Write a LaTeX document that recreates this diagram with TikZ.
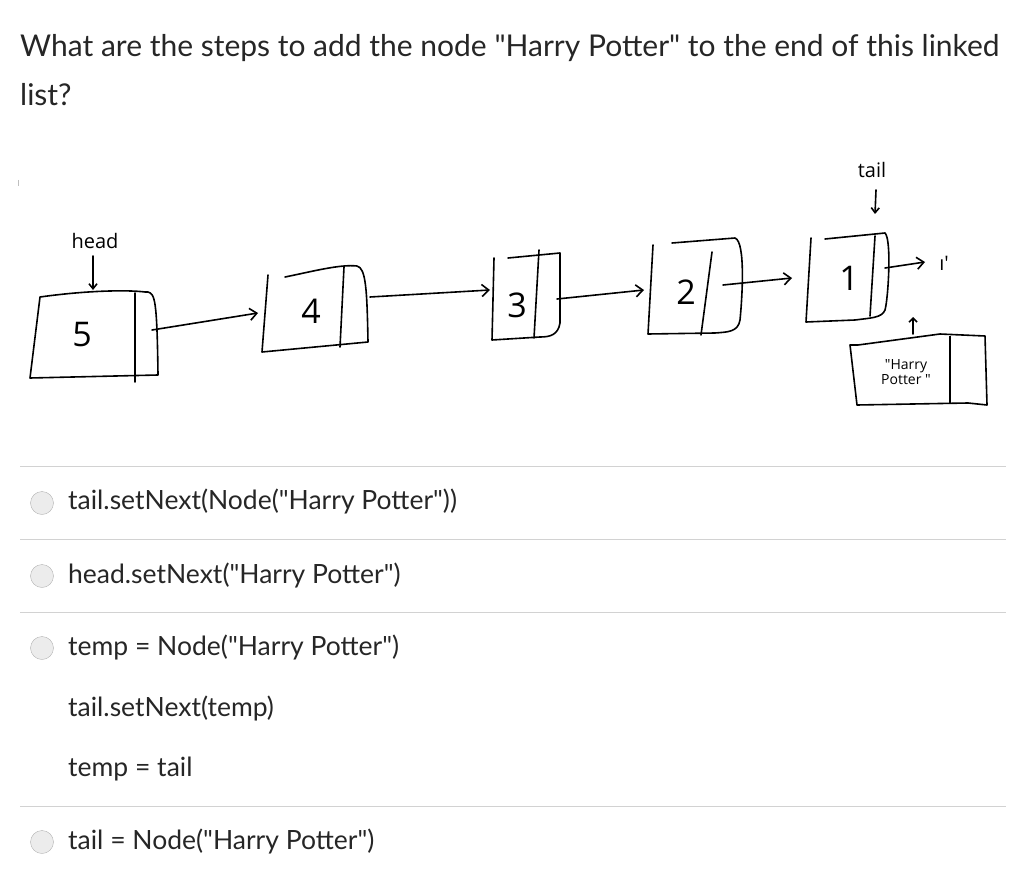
\documentclass[tikz,border=0pt]{standalone}
\usepackage{fontspec}
\setmainfont{Lato}
\newfontfamily\hand{Open Sans}
\usetikzlibrary{arrows.meta}
\newcommand{\dq}{\textquotedbl}
\begin{document}
\begin{tikzpicture}[x=1pt,y=-1pt,
  pen/.style={line width=1.6pt,line join=round,line cap=round},
  ptr/.style={pen,-{Straight Barb[length=7pt,width=12pt]}},
  hw/.style={font=\hand\fontsize{34}{34}\selectfont,inner sep=0pt},
  hws/.style={font=\hand\fontsize{14}{14}\selectfont,inner sep=0pt,align=center},
  sep/.style={draw=gray!35,line width=1pt},
  radio/.style={circle,draw=gray!60,fill=gray!15,minimum size=23pt,inner sep=0pt},
  opt/.style={anchor=west,font=\fontsize{26.5}{26.5}\selectfont,inner sep=0pt,text=black!85},
  lbl/.style={font=\hand\fontsize{20}{20}\selectfont,inner sep=0pt}]
\useasboundingbox (0,0) rectangle (1024,885);
\node[anchor=west,font=\fontsize{30}{30}\selectfont,text=black!85,inner sep=0pt] (t1) at (20,48) {What are the steps to add the node \dq Harry Potter\dq{} to the end of this linked};
\node[anchor=west,font=\fontsize{30}{30}\selectfont,text=black!85,inner sep=0pt] (t2) at (20,95) {list?};
\draw[gray!50] (18,180) -- (18,186);
% boxes
\draw[pen] (40,297) .. controls (90,290) and (130,290) .. (145,292) -- (148,292) .. controls (155,294) and (157,300) .. (158,375) -- (30,378) -- (40,297);
\draw[pen] (135,293) -- (135,382);
\node[hw] (n5) at (82,335) {5};
\draw[pen] (285,277) .. controls (310,272) and (340,264) .. (357,266) .. controls (366,268) and (367,290) .. (368,342) -- (262,352) -- (268,275);
\draw[pen] (344,267) -- (340,347);
\node[hw] (n4) at (311,311) {4};
\draw[pen] (508,258) -- (560,253) -- (560,323) .. controls (558,335) and (550,337) .. (540,337) -- (492,340) -- (494,258);
\draw[pen] (539,250) -- (534,338);
\node[hw] (n3) at (517,305) {3};
\draw[pen] (672,243) -- (735,238) .. controls (746,242) and (742,300) .. (740,320) .. controls (738,332) and (728,332) .. (715,333) -- (648,334) -- (653,245);
\draw[pen] (712,252) -- (701,335);
\node[hw] (n2) at (686,292) {2};
\draw[pen] (825,239) -- (885,233) .. controls (892,240) and (888,300) .. (885,310) .. controls (882,318) and (870,318) .. (855,320) -- (806,322) -- (811,238);
\draw[pen] (875,236) -- (870,316);
\node[hw] (n1) at (849,278) {1};
\draw[pen] (858,345) -- (850,345) -- (857,405) -- (968,403) -- (987,405) -- (985,336) -- (940,334) -- (858,345);
\draw[line width=1.3pt] (950,336) -- (950,403);
\node[hws] (hp) at (906,372) {\dq Harry\\[1pt]Potter \dq};
% arrows
\coordinate (a1) at (152,330); \coordinate (b1) at (258,313);
\draw[ptr] (a1) -- (b1);
\coordinate (a2) at (370,297); \coordinate (b2) at (490,290);
\draw[ptr] (a2) -- (b2);
\coordinate (a3) at (557,299); \coordinate (b3) at (644,290);
\draw[ptr] (a3) -- (b3);
\coordinate (a4) at (723,285); \coordinate (b4) at (792,278);
\draw[ptr] (a4) -- (b4);
\coordinate (a5) at (885,268); \coordinate (b5) at (925,262);
\draw[ptr] (a5) -- (b5);
\node[lbl] (nul) at (944,263) {ı'};
\coordinate (a6) at (913,334); \coordinate (b6) at (913,317);
\draw[pen,-{Straight Barb[length=4pt,width=8pt]}] (a6) -- (b6);
\node[lbl] (head) at (95,241) {head};
\coordinate (hh) at (93,256); \coordinate (hb) at (93,290);
\draw[pen,-{Straight Barb[length=5pt,width=8pt]}] (hh) -- (hb);
\node[lbl] (tail) at (872,170) {tail};
\coordinate (th) at (876,190); \coordinate (tb) at (875,214);
\draw[pen,-{Straight Barb[length=5pt,width=8pt]}] (th) -- (tb);
% options
\draw[sep] (20,466) -- (1006,466);
\draw[sep] (20,539) -- (1006,539);
\draw[sep] (20,612) -- (1006,612);
\draw[sep] (20,806) -- (1006,806);
\node[radio] (r1) at (42,503) {};
\node[radio] (r2) at (42,576) {};
\node[radio] (r3) at (42,648) {};
\node[radio] (r4) at (42,842) {};
\node[opt] (o1) at (68,501) {tail.setNext(Node(\dq Harry Potter\dq))};
\node[opt] (o2) at (68,575) {head.setNext(\dq Harry Potter\dq)};
\node[opt] (o3) at (68,647) {temp = Node(\dq Harry Potter\dq)};
\node[opt] (o3b) at (68,708) {tail.setNext(temp)};
\node[opt] (o3c) at (68,769) {temp = tail};
\node[opt] (o4) at (68,841) {tail = Node(\dq Harry Potter\dq)};
\end{tikzpicture}
\end{document}
